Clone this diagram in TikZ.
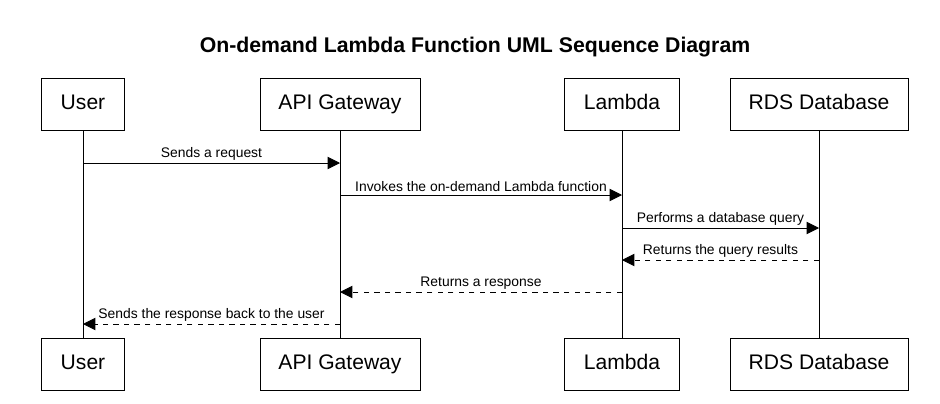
\documentclass[tikz,border=0pt]{standalone}
\usepackage{fontspec}
\setmainfont{Liberation Sans}
\usetikzlibrary{arrows.meta,positioning}

\tikzset{
  actor/.style={draw,line width=0.5pt,minimum height=1.04cm,inner sep=0pt,text height=8.6pt,text depth=2.4pt,font=\fontsize{12}{14}\selectfont},
  life/.style={line width=0.5pt},
  msg/.style={-{Triangle[length=7pt,width=7pt]},line width=0.5pt},
  reply/.style={msg,dashed},
  lbl/.style={above,inner sep=1.5pt,font=\fontsize{7.9}{9}\selectfont}
}

\begin{document}
\begin{tikzpicture}[x=0.02cm,y=-0.02cm]
\useasboundingbox (0,0) rectangle (940,403);
\node[font=\bfseries\fontsize{12.1}{14}\selectfont] (title) at (475,47) {On-demand Lambda Function UML Sequence Diagram};
% actors top and bottom
\foreach \n/\x/\w/\t in {user/83/1.66/User, api/340/3.2/API Gateway, lam/622/2.3/Lambda, rds/819/3.56/RDS Database} {
  \node[actor,minimum width=\w cm] (\n top) at (\x,104) {\t};
  \node[actor,minimum width=\w cm] (\n bot) at (\x,364) {\t};
  \draw[life] (\n top) -- (\n bot);
}
% messages
\coordinate (m1a) at (83,163);  \coordinate (m1b) at (340,163);
\coordinate (m2a) at (340,195); \coordinate (m2b) at (622,195);
\coordinate (m3a) at (622,228); \coordinate (m3b) at (819,228);
\coordinate (m4a) at (819,260); \coordinate (m4b) at (622,260);
\coordinate (m5a) at (622,292); \coordinate (m5b) at (340,292);
\coordinate (m6a) at (340,324); \coordinate (m6b) at (83,324);
\draw[msg] (m1a) -- node[lbl] {Sends a request} (m1b);
\draw[msg] (m2a) -- node[lbl] {Invokes the on-demand Lambda function} (m2b);
\draw[msg] (m3a) -- node[lbl] {Performs a database query} (m3b);
\draw[reply] (m4a) -- node[lbl] {Returns the query results} (m4b);
\draw[reply] (m5a) -- node[lbl] {Returns a response} (m5b);
\draw[reply] (m6a) -- node[lbl] {Sends the response back to the user} (m6b);
\end{tikzpicture}
\end{document}
